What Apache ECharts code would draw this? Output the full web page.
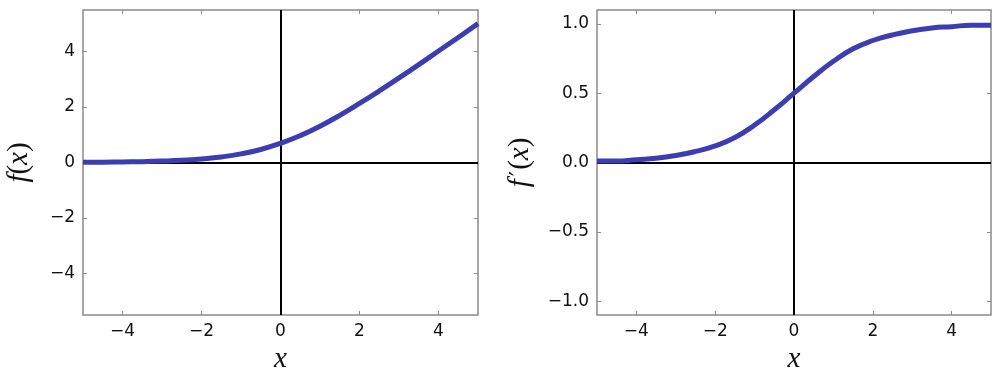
<!DOCTYPE html>
<html><head><meta charset="utf-8">
<script src="https://cdn.jsdelivr.net/npm/echarts@6/dist/echarts.min.js"></script>
<style>html,body{margin:0;padding:0;background:#fff}#c{width:1000px;height:373px}</style>
</head><body><div id="c"></div>
<script>
// x sample positions
const xs = [-5,-4.5,-4,-3.5,-3,-2.5,-2,-1.5,-1,-0.5,0,0.5,1,1.5,2,2.5,3,3.5,4,4.5,5];
// left panel: f(x)
const fVals = [0.01,0.01,0.02,0.03,0.05,0.08,0.13,0.20,0.31,0.47,0.69,0.97,1.31,1.70,2.13,2.58,3.05,3.53,4.02,4.51,5.01];
// right panel: f'(x)
const dfVals = [0.01,0.01,0.02,0.03,0.05,0.08,0.12,0.18,0.27,0.38,0.50,0.62,0.73,0.82,0.88,0.92,0.95,0.97,0.98,0.99,0.99];
const xTicks = [-4,-2,0,2,4];
const leftYTicks = [-4,-2,0,2,4];
const rightYTicks = [-1.0,-0.5,0.0,0.5,1.0];

const chart = echarts.init(document.getElementById('c'));
const frame = '#8a8a8a';
const tickFont = {color:'#111', fontSize:17, fontFamily:'DejaVu Sans'};
const mathRich = {
  i:{fontFamily:'Liberation Serif', fontStyle:'italic', fontSize:29, color:'#111'},
  r:{fontFamily:'Liberation Serif', fontSize:29, color:'#111'},
  p:{fontFamily:'DejaVu Sans', fontSize:24, color:'#111', padding:[0,1,0,3]}
};
const curveColor = '#3d3db2';
const minus = s => String(s).replace('-','\u2212');

function tickStyle(vals){
  return {show:true, inside:true, length:4, customValues:vals, lineStyle:{color:frame, width:1}};
}
function xAxisPair(gi){
  return [
    {type:'value', gridIndex:gi, min:-5, max:5, position:'bottom',
     name:'{i|x}', nameLocation:'middle', nameGap:24, nameTextStyle:{rich:mathRich},
     axisLine:{show:false, onZero:false}, splitLine:{show:false},
     axisTick:tickStyle(xTicks),
     axisLabel:{...tickFont, margin:8, customValues:xTicks, formatter:v=>minus(v)}},
    {type:'value', gridIndex:gi, min:-5, max:5, position:'top',
     axisLine:{show:false, onZero:false}, splitLine:{show:false}, axisLabel:{show:false},
     axisTick:tickStyle(xTicks)}
  ];
}
function yAxisPair(gi, mn, mx, ticks, name, gap, fmt){
  return [
    {type:'value', gridIndex:gi, min:mn, max:mx, position:'left',
     name:name, nameLocation:'middle', nameGap:gap, nameRotate:90, nameTextStyle:{rich:mathRich},
     axisLine:{show:false, onZero:false}, splitLine:{show:false},
     axisTick:tickStyle(ticks),
     axisLabel:{...tickFont, margin:8, customValues:ticks, formatter:v=>minus(fmt(v))}},
    {type:'value', gridIndex:gi, min:mn, max:mx, position:'right',
     axisLine:{show:false, onZero:false}, splitLine:{show:false}, axisLabel:{show:false},
     axisTick:tickStyle(ticks)}
  ];
}

function line(gi, data){
  return {type:'line', xAxisIndex:gi*2, yAxisIndex:gi*2, data, smooth:true, symbol:'none',
    lineStyle:{color:curveColor, width:5}, z:5,
    markLine:{silent:true, symbol:'none', label:{show:false}, z:3,
      lineStyle:{color:'#000', width:2, type:'solid'},
      data:[{xAxis:0},{yAxis:0}]}};
}

const option = {
  animation:false,
  backgroundColor:'#fff',
  grid:[
    {left:83, top:10, width:395, height:305, show:true, borderColor:frame, borderWidth:1.5, backgroundColor:'#fff', outerBoundsMode:'none', containLabel:false},
    {left:597, top:10, width:394, height:305, show:true, borderColor:frame, borderWidth:1.5, backgroundColor:'#fff', outerBoundsMode:'none', containLabel:false}
  ],
  xAxis: [...xAxisPair(0), ...xAxisPair(1)],
  yAxis: [
    ...yAxisPair(0, -5.5, 5.5, leftYTicks, '{i|f}{r|(}{i|x}{r|)}', 49, v=>String(Number(v))),
    ...yAxisPair(1, -1.1, 1.1, rightYTicks, '{i|f}{p|\u2032}{r|(}{i|x}{r|)}', 62, v=>Number(v).toFixed(1))
  ],
  series:[
    line(0, xs.map((x,i)=>[x,fVals[i]])),
    line(1, xs.map((x,i)=>[x,dfVals[i]]))
  ]
};
chart.setOption(option);
</script>
</body></html>
